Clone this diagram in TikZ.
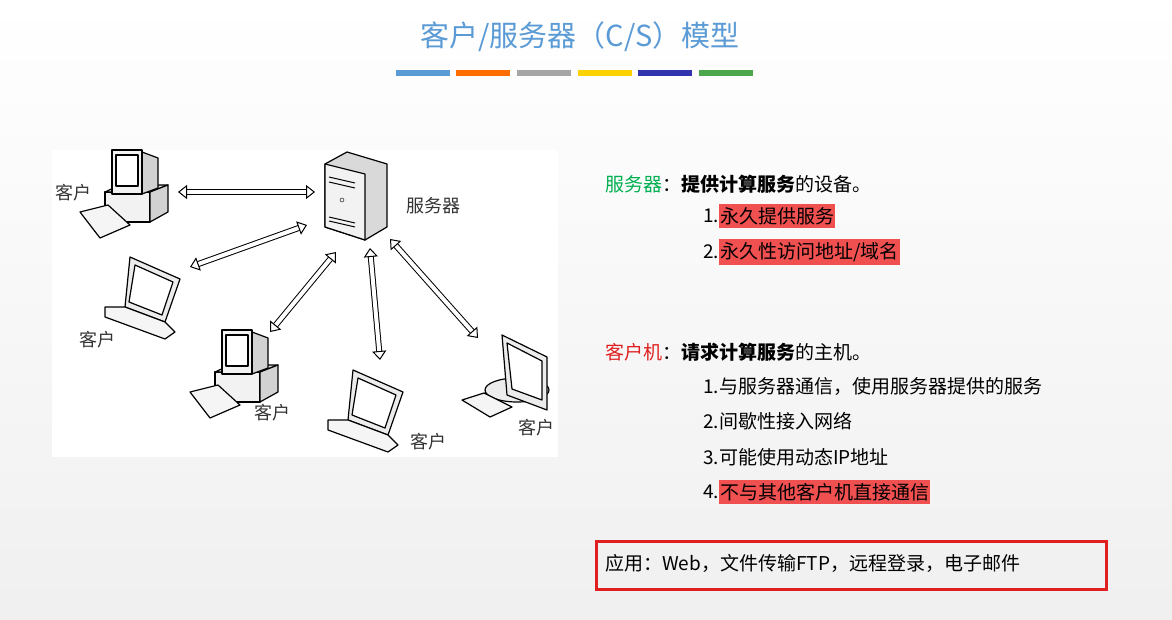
\documentclass[tikz,border=0pt]{standalone}
\usepackage{fontspec}
\setmainfont{Noto Sans CJK SC}
\usetikzlibrary{arrows.meta,positioning}
\definecolor{tblue}{HTML}{5B9BD5}
\definecolor{hl}{HTML}{F05050}
\definecolor{sgreen}{HTML}{00B050}
\definecolor{cred}{HTML}{E02020}
\tikzset{
  x=1pt,y=-1pt,
  body/.style={font=\fontsize{19}{22}\selectfont,anchor=west,inner sep=0pt},
  hlt/.style={body,fill=hl,inner xsep=1pt,inner ysep=3pt},
  lbl/.style={font=\fontsize{18}{20}\selectfont\rmfamily,inner sep=0pt,text=black!80},
  link/.style={double=white,double distance=4pt,line width=1pt,{Triangle[open,length=9pt,width=14pt]}-{Triangle[open,length=9pt,width=14pt]}},
  ico/.style={draw=black,line width=1.2pt,fill=gray!15,line join=round},
  pics/desktop/.style={code={
    \draw[ico,fill=gray!10] (25,42) rectangle (70,72);
    \draw[ico,fill=gray!25] (25,42) -- (40,35) -- (88,35) -- (70,42) -- cycle;
    \draw[ico,fill=gray!35] (70,42) -- (88,35) -- (88,62) -- (70,72) -- cycle;
    \draw[ico,fill=gray!35] (62,2) -- (78,8) -- (78,38) -- (62,44) -- cycle;
    \draw[ico,fill=gray!10] (32,0) rectangle (62,44);
    \draw[ico,fill=white] (36,5) rectangle (58,36);
    \draw[ico,fill=gray!8] (0,62) -- (28,55) -- (50,75) -- (20,88) -- cycle;
  }},
  pics/laptop/.style={code={
    \draw[ico] (25,0) -- (75,22) -- (60,65) -- (20,50) -- cycle;
    \draw[ico,fill=white] (30,8) -- (68,25) -- (57,58) -- (24,45) -- cycle;
    \draw[ico,fill=gray!8] (20,50) -- (60,65) -- (70,75) -- (60,82) -- (0,60) -- (0,50) -- cycle;
  }},
  pics/monitor/.style={code={
    \draw[ico] (55,55) ellipse (32pt and 12pt);
    \draw[ico] (40,0) -- (85,22) -- (85,75) -- (45,60) -- cycle;
    \draw[ico,fill=white] (45,8) -- (80,26) -- (80,65) -- (50,54) -- cycle;
    \draw[ico,fill=gray!8] (0,65) -- (22,58) -- (50,72) -- (28,82) -- cycle;
  }},
  pics/server/.style={code={
    \draw[ico,fill=gray!30] (0,12) -- (22,0) -- (62,12) -- (62,75) -- (40,88) -- (0,75) -- cycle;
    \draw[ico,fill=gray!10] (0,12) -- (40,22) -- (40,88) -- (0,75) -- cycle;
    \draw[line width=1pt] (4,25) -- (30,31) (4,30) -- (30,36) (4,65)--(30,71) (4,69)--(30,75);
    \draw (17,48) circle (2pt);
  }}
}
\begin{document}
\begin{tikzpicture}
\shade[top color=white,bottom color=gray!12] (0,0) rectangle (1172,620);
\useasboundingbox (0,0) rectangle (1172,620);
\node[font=\fontsize{29}{32}\selectfont,text=tblue] (title) at (580,37) {客户/服务器（C/S）模型};
\foreach \x/\c in {396/tblue,456/{orange!85!red},517/gray!70,578/{yellow!70!orange},638/{blue!60!black!80},699/{green!50!black!70}}
  \fill[\c] (\x,70) rectangle ++(54,6);
% left panel
\fill[white] (52,150) rectangle (558,457);
\pic at (80,150) {desktop};
\pic at (190,330) {desktop};
\pic at (105,257) {laptop};
\pic at (328,370) {laptop};
\pic at (462,335) {monitor};
\pic at (325,152) {server};
\node[lbl] (c1) at (73,193) {客户};
\node[lbl] (c2) at (97,340) {客户};
\node[lbl] (c3) at (272,413) {客户};
\node[lbl] (c4) at (428,442) {客户};
\node[lbl] (c5) at (536,428) {客户};
\node[lbl] (sv) at (433,206) {服务器};
\coordinate (a1) at (178,192); \coordinate (b1) at (315,192);
\coordinate (a2) at (190,267); \coordinate (b2) at (307,225);
\coordinate (a3) at (270,332); \coordinate (b3) at (336,252);
\coordinate (a4) at (380,360); \coordinate (b4) at (370,248);
\coordinate (a5) at (478,338); \coordinate (b5) at (390,239);
\foreach \i in {1,...,5} \draw[link] (a\i) -- (b\i);
% right text
\node[body] (s) at (605,184) {\textcolor{sgreen}{服务器}：\textbf{提供计算服务}的设备。};
\node[body] (s1n) at (703,216) {1.};
\node[hlt,right=0pt of s1n] (s1) {永久提供服务};
\node[body] (s2n) at (703,252) {2.};
\node[hlt,right=0pt of s2n] (s2) {永久性访问地址/域名};
\node[body] (k) at (605,352) {\textcolor{cred}{客户机}：\textbf{请求计算服务}的主机。};
\node[body] (k1) at (703,386) {1.与服务器通信，使用服务器提供的服务};
\node[body] (k2) at (703,421) {2.间歇性接入网络};
\node[body] (k3) at (703,457) {3.可能使用动态IP地址};
\node[body] (k4n) at (703,492) {4.};
\node[hlt,right=0pt of k4n] (k4) {不与其他客户机直接通信};
\draw[cred,line width=3pt] (596,541) rectangle (1106,589);
\node[body] (app) at (605,563) {应用：Web，文件传输FTP，远程登录，电子邮件};
\end{tikzpicture}
\end{document}
